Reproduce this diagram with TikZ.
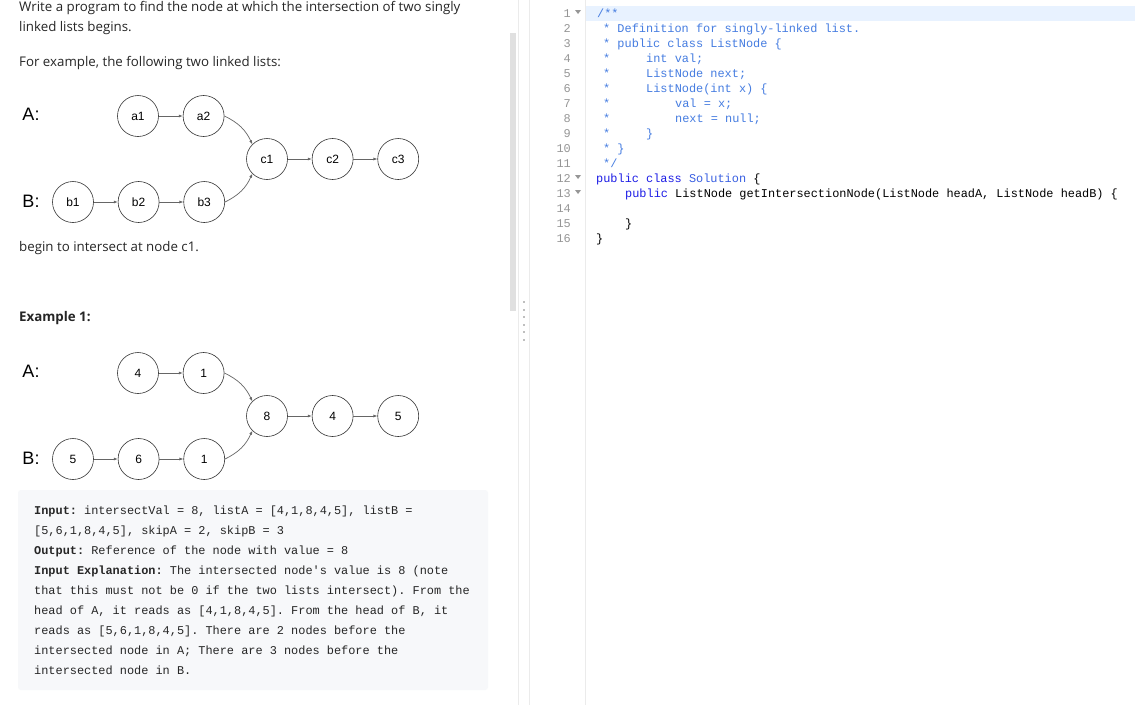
\documentclass[tikz,border=0pt]{standalone}
\usepackage{fontspec}
\setmainfont{Open Sans}
\newfontfamily\nodefont{Liberation Sans}
\setmonofont{Liberation Mono}
\usetikzlibrary{positioning,arrows.meta}
\definecolor{cmtblue}{RGB}{70,125,225}
\definecolor{kwblue}{RGB}{30,30,230}
\definecolor{gutgray}{RGB}{150,150,150}
\definecolor{boxgray}{RGB}{247,248,250}
\definecolor{lnblue}{RGB}{232,242,255}
\definecolor{txtgray}{RGB}{38,38,38}
\tikzset{
  lnode/.style={circle,draw=black!80,line width=0.6pt,minimum size=41pt,inner sep=0pt,
    font=\nodefont\fontsize{12}{12}\selectfont},
  nxt/.style={-{Latex[length=4pt,width=3pt]},draw=black!60,line width=0.7pt},
  head/.style={font=\nodefont\fontsize{18}{18}\selectfont},
  txt/.style={anchor=base west,inner sep=0pt,text=txtgray,font=\fontsize{13.3}{15}\selectfont},
  code/.style={anchor=base west,inner sep=0pt,font=\ttfamily\fontsize{11.9}{12}\selectfont},
  cmt/.style={code,text=cmtblue},
  gut/.style={anchor=base east,inner sep=0pt,text=gutgray,font=\ttfamily\fontsize{11.9}{12}\selectfont},
  mono/.style={anchor=base west,inner sep=0pt,text=txtgray,font=\ttfamily\fontsize{11.9}{12}\selectfont},
  node distance=24pt
}
\newcommand{\kw}[1]{\textcolor{kwblue}{#1}}
\begin{document}
\begin{tikzpicture}[x=1pt,y=-1pt]
\useasboundingbox[fill=white] (0,0) rectangle (1135,705);

% left pane text
\node[txt] (t1) at (19,11) {Write a program to find the node at which the intersection of two singly};
\node[txt] (t2) at (19,31) {linked lists begins.};
\node[txt] (t3) at (19,66) {For example, the following two linked lists:};
\node[txt] (t4) at (19,251) {begin to intersect at node c1.};
\node[txt,font=\bfseries\fontsize{13.3}{15}\selectfont] (t5) at (19,321) {Example 1:};

% first diagram
\node[head] (hA) at (31,114) {A:};
\node[head] (hB) at (31,201) {B:};
\node[lnode] (a1) at (138,116) {a1};
\node[lnode,right=of a1] (a2) {a2};
\node[lnode] (c1) at (267,159) {c1};
\node[lnode,right=of c1] (c2) {c2};
\node[lnode,right=of c2] (c3) {c3};
\node[lnode] (b1) at (73,202) {b1};
\node[lnode,right=of b1] (b2) {b2};
\node[lnode,right=of b2] (b3) {b3};
\draw[nxt] (a1) -- (a2);
\draw[nxt] (b1) -- (b2);
\draw[nxt] (b2) -- (b3);
\draw[nxt] (c1) -- (c2);
\draw[nxt] (c2) -- (c3);
\draw[nxt] (a2.east) to[bend left=20] (c1.north west);
\draw[nxt] (b3.east) to[bend right=20] (c1.south west);

% example diagram
\node[head] (eA) at (31,371) {A:};
\node[head] (eB) at (31,458) {B:};
\node[lnode] (x1) at (138,373) {4};
\node[lnode,right=of x1] (x2) {1};
\node[lnode] (s1) at (267,416) {8};
\node[lnode,right=of s1] (s2) {4};
\node[lnode,right=of s2] (s3) {5};
\node[lnode] (y1) at (73,459) {5};
\node[lnode,right=of y1] (y2) {6};
\node[lnode,right=of y2] (y3) {1};
\draw[nxt] (x1) -- (x2);
\draw[nxt] (y1) -- (y2);
\draw[nxt] (y2) -- (y3);
\draw[nxt] (s1) -- (s2);
\draw[nxt] (s2) -- (s3);
\draw[nxt] (x2.east) to[bend left=20] (s1.north west);
\draw[nxt] (y3.east) to[bend right=20] (s1.south west);

% example box
\fill[boxgray,rounded corners=3pt] (18,490) rectangle (488,690);
\node[mono] (i1) at (34,514) {\textbf{Input:} intersectVal = 8, listA = [4,1,8,4,5], listB =};
\node[mono] (i2) at (34,534) {[5,6,1,8,4,5], skipA = 2, skipB = 3};
\node[mono] (i3) at (34,554) {\textbf{Output:} Reference of the node with value = 8};
\node[mono] (i4) at (34,574) {\textbf{Input Explanation:} The intersected node's value is 8 (note};
\node[mono] (i5) at (34,594) {that this must not be 0 if the two lists intersect). From the};
\node[mono] (i6) at (34,614) {head of A, it reads as [4,1,8,4,5]. From the head of B, it};
\node[mono] (i7) at (34,634) {reads as [5,6,1,8,4,5]. There are 2 nodes before the};
\node[mono] (i8) at (34,654) {intersected node in A; There are 3 nodes before the};
\node[mono] (i9) at (34,674) {intersected node in B.};

% splitter and scrollbar
\fill[black!12] (510,33) rectangle (516,311);
\draw[black!8] (518.5,0) -- (518.5,705);
\draw[black!8] (529.5,0) -- (529.5,705);
\foreach \k in {0,...,5} \fill[black!25] (523,301+\k*7.5) rectangle (525,303+\k*7.5);
\draw[black!8] (585.5,0) -- (585.5,705);

% code pane
\fill[lnblue] (586,5.5) rectangle (1135,20.5);
\foreach \n in {1,...,16} \node[gut] (g\n) at (571,17+15*\n-15) {\n};
\foreach \n in {1,12,13} \fill[gutgray] (575,10+15*\n-15) -- ++(6,0) -- ++(-3,4) -- cycle;
\node[cmt] (l1) at (597,17) {/**};
\node[cmt] (l2) at (603,32) {* Definition for singly-linked list.};
\node[cmt] (l3) at (603,47) {* public class ListNode \{};
\node[cmt] (l4) at (603,62) {*};
\node[cmt] (l4b) at (646,62) {int val;};
\node[cmt] (l5) at (603,77) {*};
\node[cmt] (l5b) at (646,77) {ListNode next;};
\node[cmt] (l6) at (603,92) {*};
\node[cmt] (l6b) at (646,92) {ListNode(int x) \{};
\node[cmt] (l7) at (603,107) {*};
\node[cmt] (l7b) at (675,107) {val = x;};
\node[cmt] (l8) at (603,122) {*};
\node[cmt] (l8b) at (675,122) {next = null;};
\node[cmt] (l9) at (603,137) {*};
\node[cmt] (l9b) at (646,137) {\}};
\node[cmt] (l10) at (603,152) {* \}};
\node[cmt] (l11) at (603,167) {*/};
\node[code] (l12) at (596,182) {\kw{public class} \textcolor{cmtblue!70!kwblue}{Solution} \{};
\node[code] (l13) at (625,197) {\kw{public} ListNode getIntersectionNode(ListNode headA, ListNode headB) \{};
\node[code] (l15) at (625,227) {\}};
\node[code] (l16) at (596,242) {\}};
\end{tikzpicture}
\end{document}
